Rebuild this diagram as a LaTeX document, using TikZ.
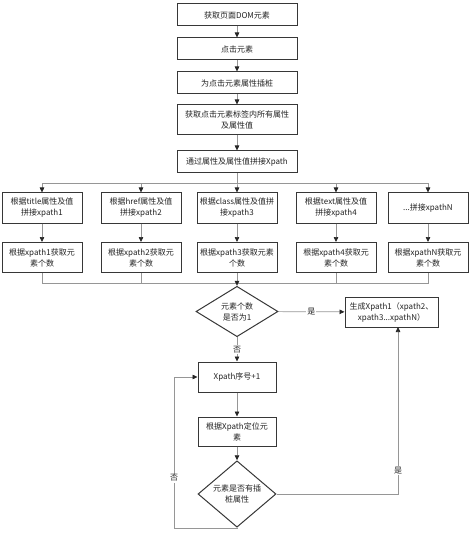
\documentclass[tikz,border=0pt]{standalone}
\usepackage{fontspec}
\setmainfont{Noto Sans CJK SC}
\usetikzlibrary{arrows.meta,positioning,shapes.geometric,calc}
\definecolor{frame}{RGB}{55,55,55}
\definecolor{wire}{RGB}{150,150,150}
\definecolor{ink}{RGB}{35,35,35}
\tikzset{
  >={Triangle[length=5pt,width=4.5pt,color=black!85]},
  box/.style={draw=frame,line width=1pt,fill=white,minimum width=#1,
    minimum height=22pt,align=center,inner sep=2pt,text=ink,
    font=\fontsize{8}{11}\selectfont},
  box/.default=120pt,
  colbox/.style={box=80pt,minimum height=30pt},
  check/.style={diamond,draw=frame,line width=1pt,fill=white,inner sep=0pt,
    minimum width=#1,minimum height=44pt,align=center,text=ink,
    font=\fontsize{8}{11}\selectfont},
  check/.default=82pt,
  flow/.style={->,draw=wire,line width=0.7pt},
  wire/.style={draw=wire,line width=0.7pt},
  lbl/.style={fill=white,inner sep=1pt,text=ink,font=\fontsize{8}{9}\selectfont},
}

\begin{document}
\begin{tikzpicture}[x=1pt,y=-1pt]
  \useasboundingbox (0,0) rectangle (474,537);
  % main column
  \node[box] (dom) at (237,15) {获取页面DOM元素};
  \node[box] (click) at (237,49) {点击元素};
  \node[box] (stake) at (237,83) {为点击元素属性插桩};
  \node[box,minimum height=30pt] (attrs) at (237,120) {获取点击元素标签内所有属性\\及属性值};
  \node[box] (join) at (237,162) {通过属性及属性值拼接Xpath};
  \draw[flow] (dom) -- (click);
  \draw[flow] (click) -- (stake);
  \draw[flow] (stake) -- (attrs);
  \draw[flow] (attrs) -- (join);
  \coordinate (bus) at (237,183);
  \coordinate (merge) at (237,283);
  % one column per attribute
  \foreach \x/\t/\u [count=\i] in {
      42/{根据title属性及值\\拼接xpath1}/{根据xpath1获取元\\素个数},
      141/{根据href属性及值\\拼接xpath2}/{根据xpath2获取元\\素个数},
      237/{根据class属性及值拼\\接xpath3}/{根据xpath3获取元素\\个数},
      336/{根据text属性及值\\拼接xpath4}/{根据xpath4获取元\\素个数},
      428/{...拼接xpathN}/{根据xpathN获取元\\素个数}}{
    \node[colbox] (spell\i) at (\x,208) {\t};
    \node[colbox] (count\i) at (\x,257.5) {\u};
    \draw[flow] (join.south) |- (spell\i.north |- bus) -- (spell\i);
    \draw[flow] (spell\i) -- (count\i);
    \draw[wire] (count\i.south) |- (merge);
  }
  % decision part
  \node[check] (one) at (237,311.5) {元素个数\\是否为1};
  \node[box=93pt,minimum height=30pt] (result) at (391.5,312) {生成Xpath1（xpath2、\\xpath3...xpathN）};
  \node[box=78pt,minimum height=30pt] (incr) at (237,377) {Xpath序号+1};
  \node[box=78pt,minimum height=29pt] (locate) at (237,431.5) {根据Xpath定位元\\素};
  \node[check=78pt,minimum height=46pt] (stub) at (237,494) {元素是否有插\\桩属性};
  \coordinate (back) at (174,528);
  \coordinate (up) at (398,327);
  \draw[flow] (merge) -- (one);
  \draw[flow] (one) -- node[lbl]{是} (result);
  \draw[flow] (one) -- node[lbl]{否} (incr);
  \draw[flow] (incr) -- (locate);
  \draw[flow] (locate) -- (stub);
  \draw[flow] (stub.south) |- (back) -- node[lbl,pos=0.33]{否} (back |- incr.west) -- (incr.west);
  \draw[flow] (stub.east) -| node[lbl,pos=0.57]{是} (up);
\end{tikzpicture}
\end{document}
